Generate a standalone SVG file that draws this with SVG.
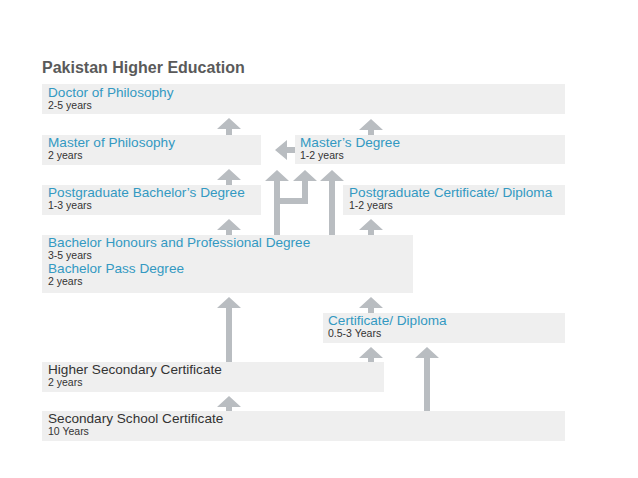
<svg xmlns="http://www.w3.org/2000/svg" width="638" height="478" viewBox="0 0 638 478">
<style>
.box{fill:#efefef}
.arr{fill:#b9bdc1}
.t{font-family:"Liberation Sans",Arial,sans-serif;font-size:13.6px;fill:#3399c2}
.k{font-family:"Liberation Sans",Arial,sans-serif;font-size:13.6px;fill:#333333}
.s{font-family:"Liberation Sans",Arial,sans-serif;font-size:10.5px;fill:#333333}
.title{font-family:"Liberation Sans",Arial,sans-serif;font-size:16px;font-weight:bold;fill:#5a5a5a}
</style>
<rect width="638" height="478" fill="#ffffff"/>
<text class="title" x="42" y="73">Pakistan Higher Education</text>
<g id="connectors">
<path class="arr" d="M226,135 V129 H217 L229,118 L241,129 H232 V135 Z"/>
<path class="arr" d="M368,135 V130 H359 L371,119 L383,130 H374 V135 Z"/>
<path class="arr" d="M226,185 V180 H217 L229,169 L241,180 H232 V185 Z"/>
<path class="arr" d="M295,147 H287 V140 L275,150 L287,160 V153 H295 Z"/>
<path class="arr" d="M274,235 V181 H265 L277,170 L289,181 H280 V198 H302 V181 H293 L305,170 L317,181 H308 V204 H280 V235 Z"/>
<path class="arr" d="M329,235 V181 H320 L332,170 L344,181 H335 V235 Z"/>
<path class="arr" d="M368,235 V230 H359 L371,219 L383,230 H374 V235 Z"/>
<path class="arr" d="M226,235 V230 H217 L229,219 L241,230 H232 V235 Z"/>
<path class="arr" d="M226,362 V308 H217 L229,297 L241,308 H232 V362 Z"/>
<path class="arr" d="M368,313 V308 H359 L371,297 L383,308 H374 V313 Z"/>
<path class="arr" d="M368,362 V358 H359 L371,347 L383,358 H374 V362 Z"/>
<path class="arr" d="M424,411 V358 H415 L427,347 L439,358 H430 V411 Z"/>
<path class="arr" d="M226,411 V407 H217 L229,396 L241,407 H232 V411 Z"/>
</g>
<g id="phd">
<rect class="box" x="42" y="84" width="523" height="30"/>
<text class="t" x="48" y="97">Doctor of Philosophy</text>
<text class="s" x="48" y="109">2-5 years</text>
</g>
<g id="mphil">
<rect class="box" x="42" y="135" width="219" height="30"/>
<text class="t" x="48" y="147">Master of Philosophy</text>
<text class="s" x="48" y="159">2 years</text>
</g>
<g id="masters">
<rect class="box" x="295" y="135" width="270" height="29"/>
<text class="t" x="300" y="147">Master’s Degree</text>
<text class="s" x="300" y="159">1-2 years</text>
</g>
<g id="pgbachelor">
<rect class="box" x="42" y="185" width="219" height="30"/>
<text class="t" x="48" y="197">Postgraduate Bachelor’s Degree</text>
<text class="s" x="48" y="209">1-3 years</text>
</g>
<g id="pgcert">
<rect class="box" x="343" y="185" width="222" height="30"/>
<text class="t" x="349" y="197">Postgraduate Certificate/ Diploma</text>
<text class="s" x="349" y="209">1-2 years</text>
</g>
<g id="bachelor">
<rect class="box" x="42" y="235" width="371" height="58"/>
<text class="t" x="48" y="247">Bachelor Honours and Professional Degree</text>
<text class="s" x="48" y="259">3-5 years</text>
<text class="t" x="48" y="273">Bachelor Pass Degree</text>
<text class="s" x="48" y="285">2 years</text>
</g>
<g id="certificate">
<rect class="box" x="323" y="313" width="242" height="30"/>
<text class="t" x="328" y="325">Certificate/ Diploma</text>
<text class="s" x="328" y="337">0.5-3 Years</text>
</g>
<g id="hsc">
<rect class="box" x="42" y="362" width="342" height="30"/>
<text class="k" x="48" y="374">Higher Secondary Certificate</text>
<text class="s" x="48" y="386">2 years</text>
</g>
<g id="ssc">
<rect class="box" x="42" y="411" width="523" height="30"/>
<text class="k" x="48" y="423">Secondary School Certificate</text>
<text class="s" x="48" y="435">10 Years</text>
</g>
</svg>
